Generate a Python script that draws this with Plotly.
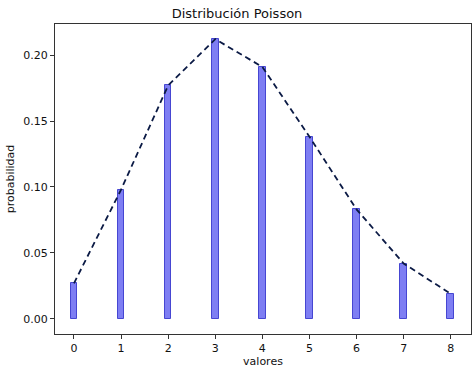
import plotly.graph_objects as go

valores = [0, 1, 2, 3, 4, 5, 6, 7, 8]
probabilidad = [0.027, 0.098, 0.177, 0.212, 0.191, 0.138, 0.083, 0.042, 0.019]
y_ticks = [0.00, 0.05, 0.10, 0.15, 0.20]

fig = go.Figure()
fig.add_trace(go.Bar(
    x=valores, y=probabilidad, width=0.14,
    marker=dict(color="rgba(40,40,235,0.6)", line=dict(color="rgba(40,40,200,0.8)", width=1)),
    showlegend=False,
))
fig.add_trace(go.Scatter(
    x=valores, y=probabilidad, mode="lines",
    line=dict(color="#0b1a45", width=1.8, dash="6px,4px"),
    showlegend=False,
))

axis_common = dict(
    showline=True, linecolor="#333333", linewidth=1, mirror=True,
    ticks="outside", ticklen=4, tickcolor="#333333", showgrid=False, zeroline=False,
    tickfont=dict(family="DejaVu Sans", size=11, color="#111111"),
)
fig.update_layout(
    width=474, height=370,
    margin=dict(l=55, r=3, t=24, b=36),
    paper_bgcolor="white", plot_bgcolor="white",
    title=dict(text="Distribución Poisson", x=0.5, xanchor="center", y=0.965, yanchor="middle",
               font=dict(family="DejaVu Sans", size=13, color="#111111")),
    xaxis=dict(range=[-0.403, 8.43], tickvals=valores,
               title=dict(text="valores", standoff=2, font=dict(family="DejaVu Sans", size=11, color="#111111")),
               **axis_common),
    yaxis=dict(range=[-0.0114, 0.2235], tickvals=y_ticks, tickformat=".2f",
               title=dict(text="probabilidad", standoff=6, font=dict(family="DejaVu Sans", size=11, color="#111111")),
               **axis_common),
    bargap=0,
)
fig.write_html("out.html", config={"displayModeBar": False},
               post_script="document.body.style.margin='0';document.body.style.overflow='hidden';")
